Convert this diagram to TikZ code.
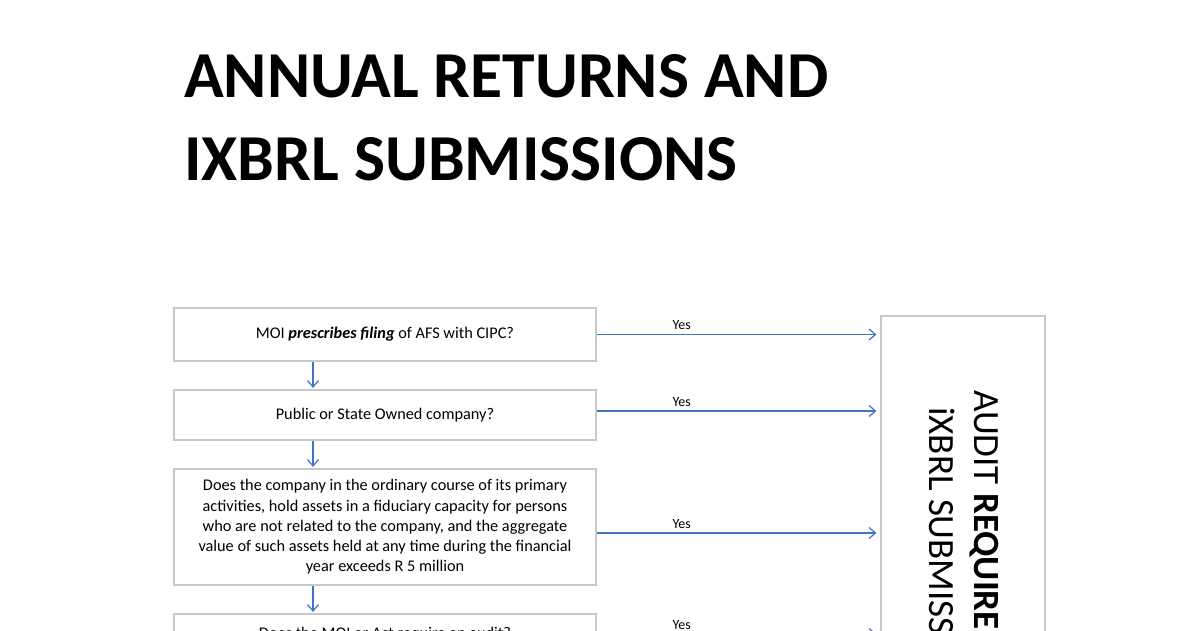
\documentclass[tikz,border=0pt]{standalone}
\usepackage{fontspec}
\setmainfont{Carlito}
\usetikzlibrary{arrows.meta}
\definecolor{boxgray}{RGB}{200,200,200}
\definecolor{arrowblue}{RGB}{68,114,196}
\begin{document}
\begin{tikzpicture}[x=1pt,y=-1pt,
  qbox/.style={draw=boxgray, line width=1.1pt, fill=white, minimum width=422pt,
    align=center, font=\fontsize{16.3}{20.3}\selectfont, inner sep=0pt},
  flow/.style={draw=arrowblue, line width=1.2pt, -{Straight Barb[length=6.5pt,width=11pt]}},
  yeslbl/.style={font=\fontsize{14}{16}\selectfont, inner sep=0pt},
  titletext/.style={font=\fontsize{65.6}{83}\selectfont\bfseries, inner sep=0pt, anchor=base west},
  rottext/.style={font=\fontsize{37}{45}\selectfont, inner sep=0pt, rotate=-90, anchor=base west}]
\useasboundingbox (0,0) rectangle (1200,630);
\clip (0,0) rectangle (1200,630);
\fill[white] (0,0) rectangle (1200,630);

% title
\node[titletext] (t1) at (184,97) {ANNUAL RETURNS AND};
\node[titletext] (t2) at (184,180) {IXBRL SUBMISSIONS};

% question boxes
\node[qbox, minimum height=53pt] (b1) at (385,334.5)
  {\raisebox{-2pt}{MOI \textbf{\textit{prescribes filing}} of AFS with CIPC?}};
\node[qbox, minimum height=50pt] (b2) at (385,415)
  {\raisebox{-2pt}{Public or State Owned company?}};
\node[qbox, minimum height=116pt] (b3) at (385,527)
  {Does the company in the ordinary course of its primary\\
   activities, hold assets in a fiduciary capacity for persons\\
   who are not related to the company, and the aggregate\\
   value of such assets held at any time during the financial\\
   year exceeds R 5 million};
\node[qbox, minimum height=40pt] (b4) at (385,634)
  {Does the MOI or Act require an audit?};

% result box
\node[draw=boxgray, line width=1.1pt, minimum width=164pt, minimum height=400pt, inner sep=0pt] (rbox) at (963,516) {};
\node[rottext] (r1) at (974,390) {AUDIT \textbf{REQUIRED}};
\node[rottext] (r2) at (929,407) {iXBRL SUBMISSIONS};

% down arrows
\coordinate (d1) at ([xshift=-72pt]b1.south);
\coordinate (d2) at ([xshift=-72pt]b2.south);
\coordinate (d3) at ([xshift=-72pt]b3.south);
\draw[flow, shorten >=1.5pt] (d1) -- (d1 |- b2.north);
\draw[flow, shorten >=1.5pt] (d2) -- (d2 |- b3.north);
\draw[flow, shorten >=1.5pt] (d3) -- (d3 |- b4.north);

% yes arrows
\coordinate (y1) at (b1.east);
\coordinate (y2) at ([yshift=4pt]b2.east);
\coordinate (y3) at ([yshift=-6pt]b3.east);
\coordinate (y4) at (b4.east);
\draw[flow, shorten >=4pt] (y1) -- (y1 -| rbox.west) node[yeslbl, pos=0.3, above=4pt] {Yes};
\draw[flow, shorten >=4pt] (y2) -- (y2 -| rbox.west) node[yeslbl, pos=0.3, above=4pt] {Yes};
\draw[flow, shorten >=4pt] (y3) -- (y3 -| rbox.west) node[yeslbl, pos=0.3, above=4pt] {Yes};
\draw[flow, shorten >=4pt] (y4) -- (y4 -| rbox.west) node[yeslbl, pos=0.3, above=4pt] {Yes};
\end{tikzpicture}
\end{document}
